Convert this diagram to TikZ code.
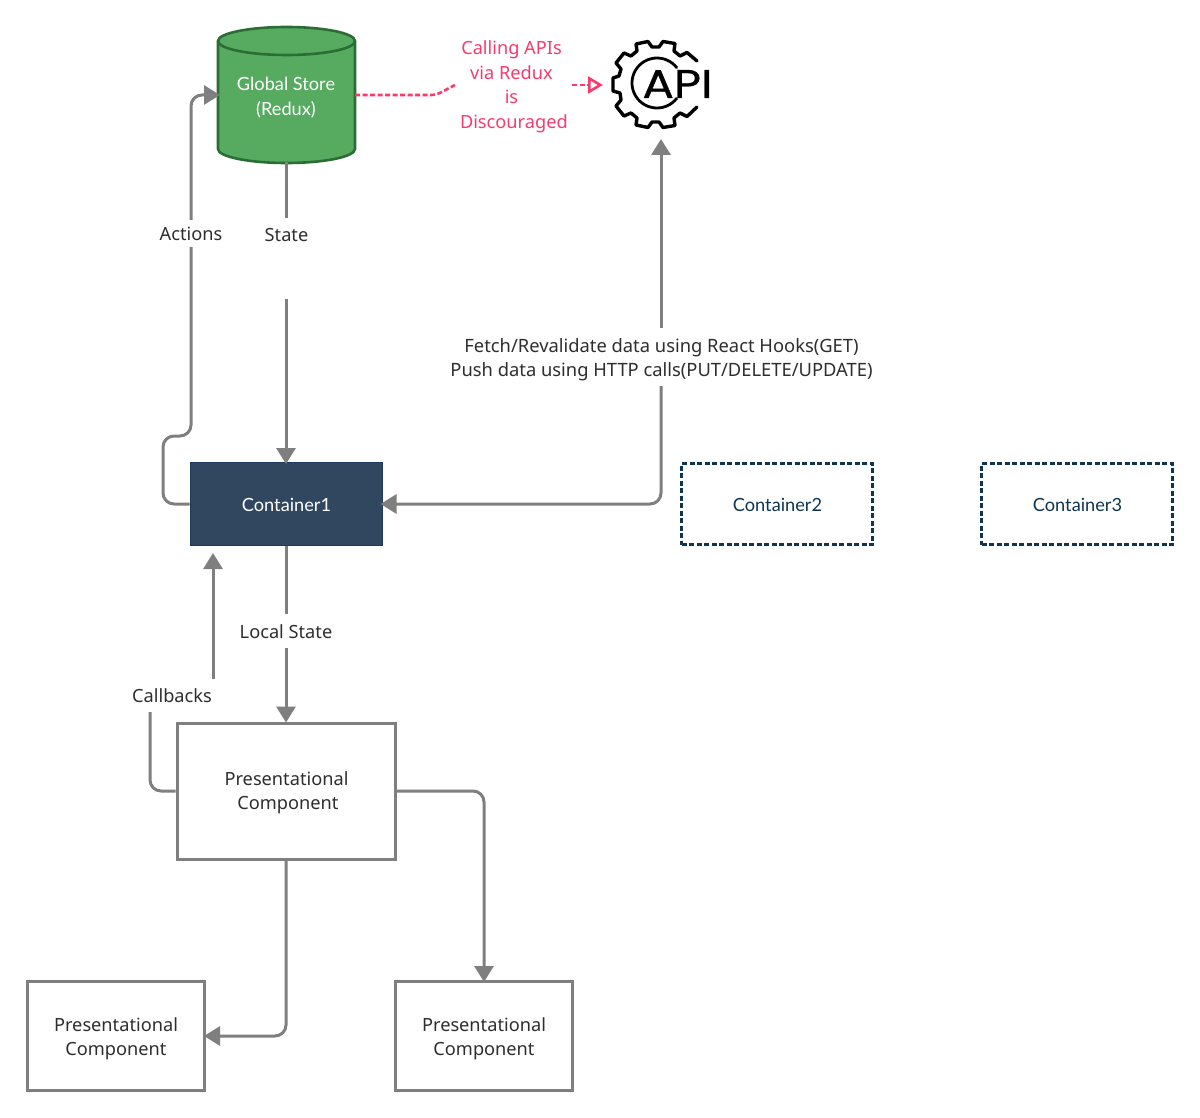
\documentclass[tikz,border=0pt]{standalone}
\usepackage{fontspec}
\setmainfont{Noto Sans}
\newfontfamily\latofont{Lato}
\newfontfamily\apifont[FakeBold=0.6]{Poppins}
\usetikzlibrary{arrows.meta,calc,shapes.geometric}
\definecolor{edgegray}{HTML}{7F7F7F}
\definecolor{txt}{HTML}{2E2E2E}
\definecolor{navy}{HTML}{31465F}
\definecolor{navyline}{HTML}{1E3A5C}
\definecolor{dashnavy}{HTML}{0F3550}
\definecolor{storefill}{HTML}{56AB61}
\definecolor{storeline}{HTML}{2B6E35}
\definecolor{warn}{HTML}{FB3A6C}
\tikzset{
  x=1pt,y=-1pt,
  conn/.style={draw=edgegray,line width=3pt,rounded corners=11pt},
  tip/.style={-{Triangle[length=16pt,width=19pt,fill=edgegray]}},
  lbl/.style={text=txt,font=\fontsize{18.2}{24}\selectfont,align=center,inner sep=0pt},
  pcomp/.style={draw=edgegray,line width=3pt,fill=white,lbl,minimum width=#1,anchor=center},
  contdash/.style={draw=dashnavy,line width=2.4pt,dash pattern=on 5pt off 2.5pt,fill=white,minimum width=191pt,minimum height=81pt,text=dashnavy,font=\latofont\fontsize{18.2}{24}\selectfont,inner sep=0pt},
  warnline/.style={draw=warn,line width=2.6pt,dash pattern=on 5pt off 2.5pt},
  warntext/.style={text=warn,font=\fontsize{18.2}{24.5}\selectfont,align=center,inner sep=0pt},
  icon/.style={draw=black,line width=3.6pt,line cap=round,line join=round}
}
\begin{document}
\begin{tikzpicture}
\useasboundingbox (0,0) rectangle (1200,1118);
\fill[white] (0,0) rectangle (1200,1118);
% nodes
\node[draw=navyline,line width=1pt,fill=navy,minimum width=192pt,minimum height=83pt,inner sep=0pt] (c1) at (286,504) {};
\node[text=white,font=\latofont\fontsize{18.2}{24}\selectfont,inner sep=0pt] (c1text) at (286.5,505) {Container1};
\node[contdash] (c2) at (777,504) {};
\node[contdash] (c3) at (1077,504) {};
\node[text=dashnavy,font=\latofont\fontsize{18.2}{24}\selectfont,inner sep=0pt] (c2text) at (777.5,505) {Container2};
\node[text=dashnavy,font=\latofont\fontsize{18.2}{24}\selectfont,inner sep=0pt] (c3text) at (1077.5,505) {Container3};
\node[pcomp=218pt,minimum height=136pt] (p0) at (286,791) {};
\node[pcomp=177pt,minimum height=109pt] (p1) at (116,1036) {};
\node[pcomp=177pt,minimum height=109pt] (p2) at (484,1036) {};
\node[lbl] (p0text) at (288,793) {\hspace*{-3pt}Presentational\\Component};
\node[lbl] (p1text) at (116,1039) {Presentational\\Component};
\node[lbl] (p2text) at (484,1039) {Presentational\\Component};
% store cylinder
\draw[storeline,line width=2.6pt,fill=storefill] (218,41) -- (218,149) arc[start angle=180,end angle=360,x radius=68.5,y radius=-14] -- (355,41) arc[start angle=0,end angle=180,x radius=68.5,y radius=-14] -- cycle;
\draw[storeline,line width=2.6pt] (218,41) arc[start angle=180,end angle=360,x radius=68.5,y radius=-14];
\node[text=white,font=\latofont\fontsize{18.2}{24.5}\selectfont,align=center,inner sep=0pt] (store) at (286,97.5) {Global Store\\(Redux)};
\coordinate (storeL) at (220,95);
\coordinate (storeB) at (286,162);
\coordinate (storeR) at (355,95);
% API icon
\node[font=\apifont\fontsize{40}{40}\selectfont,text=black,inner sep=0pt,xscale=1.17] (apitext) at (677.5,84) {API};
\draw[icon,line width=2.8pt] plot[smooth,domain=38:322,samples=40] ({657+25*cos(\x)},{83-25*sin(\x)});
\draw[icon,line width=3.4pt] plot[] coordinates {
 (697,61) (687,52.5) (680,56) (674,51) (675,43.5) (663,41.5) (659,47) (652,47) (648,41.5) (636,44) (637,51) (631,56) (624,53) (616,63) (621,69) (619,76) (613,78) (613,91) (620,93) (621,100) (616,106) (624,116) (631,113) (637,118) (636,125) (648,127.5) (652,122) (659,122) (663,127.5) (675,125.5) (674,118) (680,113) (687,116.5) (697,107)
};
\coordinate (apiB) at (661,139);
% labels
\node[lbl] (lActions) at (191,234) {Actions};
\node[lbl] (lState) at (286.5,235) {State};
\node[lbl,font=\fontsize{18.35}{24}\selectfont] (lFetch) at (661.5,360) {Fetch/Revalidate data using React Hooks(GET)\\Push data using HTTP calls(PUT/DELETE/UPDATE)};
\node[lbl] (lLocal) at (286,632) {Local State};
\node[lbl] (lCall) at (172,696) {Callbacks};
\node[warntext] (lWarn) at (511.5,87) {Calling APIs\\via Redux\\is\\\ Discouraged};
% free ends of connectors that stop short of their labels
\coordinate (stateTop) at (286,218);
\coordinate (stateBot) at (286,299);
\coordinate (actTop) at (191,220);
\coordinate (actBot) at (191,247);
\coordinate (fetchTop) at (661,328);
\coordinate (fetchBot) at (661,386);
\coordinate (localTop) at (286,614);
\coordinate (localBot) at (286,648);
\coordinate (callTop) at (213,679);
\coordinate (callBot) at (150,712);
\coordinate (c1under) at (213,553);
\coordinate (warnA) at (455,85);
\coordinate (warnB) at (572,85);
\coordinate (warnC) at (603,85);
% connectors
\draw[conn] (storeB) -- (stateTop);
\draw[conn,tip,rounded corners=0pt] (stateBot) -- ($(c1.north)+(0,2)$);
\draw[conn,tip,rounded corners=0pt] (fetchTop) -- (apiB);
\draw[conn,tip] (fetchBot) -- (661,504) -- ($(c1.east)+(-2,0)$);
\draw[conn] (c1.west) -- (163,504) -- (163,436) -- (191,436) -- (actBot);
\draw[conn,tip] (actTop) -- (191,95) -- (storeL);
\draw[conn] (c1.south) -- (localTop);
\draw[conn,tip] (localBot) -- ($(p0.north)+(0,1)$);
\draw[conn,tip] (callTop) -- (c1under);
\draw[conn] (p0.west) -- (150,791) -- (callBot);
\draw[conn,tip] (p0.east) -- (484,791) -- ($(p2.north)+(0,2)$);
\draw[conn,tip] (p0.south) -- (286,1036) -- ($(p1.east)+(-2,0)$);
\draw[warnline,rounded corners=5pt] (storeR) -- (436,95) -- (warnA);
\draw[warnline,-{Triangle[open,length=15pt,width=17pt,fill=white]}] (warnB) -- (warnC);
\end{tikzpicture}
\end{document}
